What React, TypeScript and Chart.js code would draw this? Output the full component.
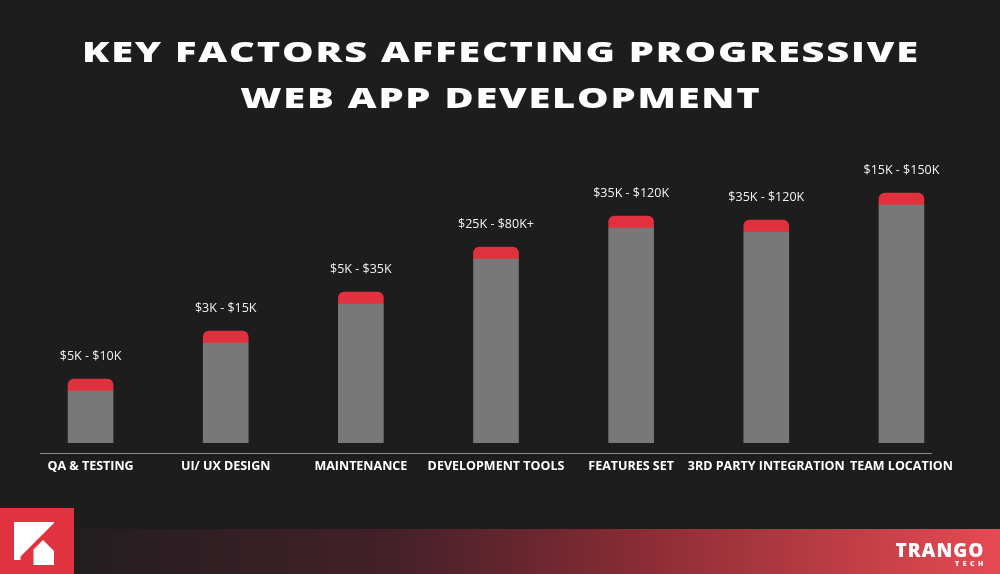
import React, { useEffect, useRef } from "react";
import { Chart, registerables } from "chart.js";

Chart.register(...registerables);

// Cost factors and their typical ranges
const categories = [
  "QA & TESTING",
  "UI/ UX DESIGN",
  "MAINTENANCE",
  "DEVELOPMENT TOOLS",
  "FEATURES SET",
  "3RD PARTY INTEGRATION",
  "TEAM LOCATION",
];
const costRanges = [
  "$5K - $10K",
  "$3K - $15K",
  "$5K - $35K",
  "$25K - $80K+",
  "$35K - $120K",
  "$35K - $120K",
  "$15K - $150K",
];
// Relative impact of each factor (bar height, incl. the red cap)
const impactScores = [64, 112, 151, 196, 227, 223, 250];
const capSize = 12;

const titleLines = ["KEY FACTORS AFFECTING PROGRESSIVE", "WEB APP DEVELOPMENT"];

const BG = "#1d1d1d";
const BAR_GRAY = "#787878";
const BAR_RED = "#e1313f";

const TITLE_FONT = "800 28px 'Open Sans'";
const TITLE_WIDTH = 836;
const TITLE_STRETCH = 1.42;

const backdropPlugin = {
  id: "backdrop",
  beforeDraw(chart: any) {
    const { ctx, width, height } = chart;
    ctx.save();
    ctx.fillStyle = BG;
    ctx.fillRect(0, 0, width, height);

    // bottom brand strip
    const g = ctx.createLinearGradient(74, 0, width, 0);
    g.addColorStop(0, "#221e1f");
    g.addColorStop(0.35, "#45202a");
    g.addColorStop(0.58, "#822a32");
    g.addColorStop(1, "#e74a53");
    ctx.fillStyle = g;
    ctx.fillRect(74, 529, width - 74, height - 529);

    // logo mark: arrow pointing up-left
    ctx.fillStyle = "#e0323f";
    ctx.fillRect(0, 508, 74, height - 508);
    ctx.fillStyle = "#ffffff";
    ctx.beginPath();
    ctx.moveTo(14, 522);
    ctx.lineTo(54, 522);
    ctx.lineTo(54, 523);
    ctx.lineTo(20.5, 556.5);
    ctx.lineTo(20.5, 560);
    ctx.lineTo(14, 560);
    ctx.closePath();
    ctx.fill();
    ctx.beginPath();
    ctx.moveTo(43, 540);
    ctx.lineTo(54, 551);
    ctx.lineTo(54, 565);
    ctx.lineTo(33.5, 565);
    ctx.lineTo(33.5, 549.5);
    ctx.closePath();
    ctx.fill();

    // wordmark
    ctx.textAlign = "center";
    ctx.textBaseline = "alphabetic";
    ctx.font = "800 19px 'Open Sans'";
    (ctx as any).letterSpacing = "1px";
    ctx.fillText("TRANGO", 940, 557);
    ctx.font = "800 7px 'Open Sans'";
    (ctx as any).letterSpacing = "3.5px";
    ctx.fillText("TECH", 971, 566);

    // title: wide heavy caps, tracked out to a fixed measure
    ctx.font = TITLE_FONT;
    (ctx as any).letterSpacing = "0px";
    const raw = ctx.measureText(titleLines[0]).width;
    const n = titleLines[0].length;
    const spacing = (TITLE_WIDTH / TITLE_STRETCH - raw) / (n - 1);
    (ctx as any).letterSpacing = spacing + "px";
    ctx.textBaseline = "middle";
    ctx.textAlign = "center";
    [54, 100].forEach((y, i) => {
      ctx.save();
      ctx.translate(500, y);
      ctx.scale(TITLE_STRETCH, 1);
      ctx.fillText(titleLines[i], spacing / 2, 0);
      ctx.restore();
    });
    (ctx as any).letterSpacing = "0px";

    // baseline rule
    ctx.strokeStyle = "#8a8a8a";
    ctx.lineWidth = 1;
    ctx.beginPath();
    ctx.moveTo(40, 453.5);
    ctx.lineTo(932, 453.5);
    ctx.stroke();
    ctx.restore();
  },
};

const rangeLabelPlugin = {
  id: "rangeLabels",
  afterDatasetsDraw(chart: any) {
    const { ctx } = chart;
    const meta = chart.getDatasetMeta(1);
    ctx.save();
    ctx.fillStyle = "#f2f2f2";
    ctx.font = "500 12.5px 'Open Sans'";
    ctx.textAlign = "center";
    ctx.textBaseline = "middle";
    meta.data.forEach((bar: any, i: number) => {
      ctx.fillText(costRanges[i], bar.x, bar.y - 23);
    });
    ctx.restore();
  },
};

export default function App() {
  const ref = useRef<HTMLCanvasElement | null>(null);

  useEffect(() => {
    if (!ref.current) return;
    const chart = new Chart(ref.current, {
      type: "bar",
      data: {
        labels: categories,
        datasets: [
          {
            data: impactScores.map((v) => v - capSize),
            backgroundColor: BAR_GRAY,
            barThickness: 45,
            borderSkipped: false,
          },
          {
            data: impactScores.map(() => capSize),
            backgroundColor: BAR_RED,
            barThickness: 45,
            borderRadius: { topLeft: 6, topRight: 6, bottomLeft: 0, bottomRight: 0 },
            borderSkipped: false,
          },
        ],
      },
      options: {
        responsive: false,
        animation: false,
        layout: { padding: { top: 143, left: 23, right: 31, bottom: 84 } },
        plugins: {
          legend: { display: false },
          tooltip: { enabled: false },
          title: { display: false },
        },
        scales: {
          x: {
            stacked: true,
            grid: { display: false, drawTicks: false },
            border: { display: false },
            ticks: {
              color: "#ffffff",
              padding: 16,
              maxRotation: 0,
              autoSkip: false,
              font: { family: "'Open Sans'", size: 12.5, weight: 700 },
            },
          },
          y: {
            stacked: true,
            display: false,
            min: 0,
            max: 300,
          },
        },
      },
      plugins: [backdropPlugin, rangeLabelPlugin],
    });
    return () => chart.destroy();
  }, []);

  return (
    <div style={{ position: "fixed", left: 0, top: 0, width: 1000, height: 574, background: BG }}>
      <canvas ref={ref} width={1000} height={574} style={{ display: "block" }} />
    </div>
  );
}
